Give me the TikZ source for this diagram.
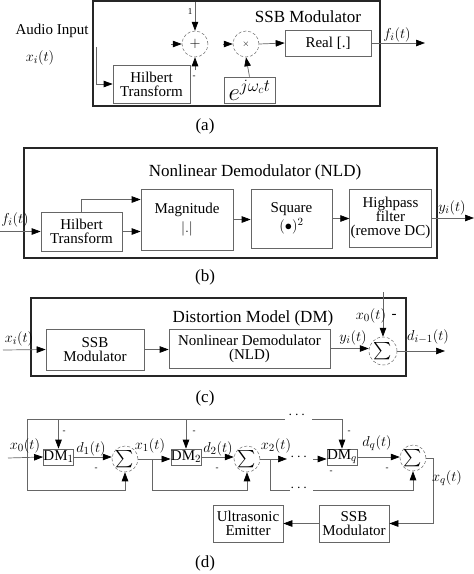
\documentclass[tikz,border=0pt]{standalone}
\usepackage{amsmath}
\usepackage{fontspec}
\setmainfont{Liberation Serif}
\usetikzlibrary{arrows.meta}

\tikzset{
  blk/.style={draw=black!60, line width=0.7pt, inner sep=1pt, align=center},
  sumnode/.style={circle, draw=black!60, densely dashed, line width=0.5pt, minimum size=26pt, inner sep=0pt},
  frame/.style={draw=black!85, line width=1.6pt},
  con/.style={draw=black!60, line width=0.7pt},
  arr/.style={con, -{Triangle[length=9pt,width=6.5pt,color=black]}},
  lbl/.style={inner sep=0.75pt},
  ttl/.style={font=\fontsize{17}{19}\selectfont},
}
\newcommand{\sumsign}{{\fontsize{19}{19}\selectfont$\sum$}}

\begin{document}
\begin{tikzpicture}[x=1pt,y=1pt,yscale=-1,xscale=1,font=\fontsize{15}{17}\selectfont]
\useasboundingbox (0,0) rectangle (474,574);

%%%%%%%%%%%%%%%% (a) SSB modulator
%Shape: Rectangle
\draw [frame] (93,1) rectangle (380,106);
% Text Node
\node [ttl] (a_title) at (308,17) {SSB Modulator};
\node (a_audio) at (52,31) {Audio Input};
\node (a_xi) at (40,58) {$x_i(t)$};
%Shape: Blocks
\node [blk, minimum width=77pt, minimum height=38pt] (hil_a) at (151.5,84) {Hilbert\\[-3pt]Transform};
\node [sumnode] (add) at (195,44) {$+$};
\node [sumnode] (mul) at (246,44) {\small$\times$};
\node [blk, minimum width=51pt, minimum height=26pt, inner sep=0pt] (expo) at (249.5,90) {\fontsize{24}{24}\selectfont$e^{j\omega_c t}$};
\node [blk, minimum width=86pt, minimum height=26pt] (real) at (328,43) {Real [.]};
%Free ends
\coordinate (a_in) at (96,47);
\coordinate (a_one) at (195,2);
\coordinate (a_left) at (171,44);
\coordinate (a_low) at (195,70);
\coordinate (m_left) at (223,44);
\coordinate (a_out) at (425,43);
%Straight Lines
\draw [arr] (a_in) |- (hil_a.west);
\draw [arr] (a_one) -- (add.north);
\draw [arr] (a_left) -- (add.west);
\draw [arr] (a_low) -- (add.south);
\draw [arr] (m_left) -- (mul.west);
\draw [arr] (expo.north) -- (mul.south);
\draw [arr] (mul.east) -- (real.west);
\draw [arr] (real.east) -- (a_out);
% Text Node
\node [lbl] (a_1) at (190,12) {\small 1};
\node [lbl] (a_minus) at (194,77) {\small -};
\node [lbl] (a_fi) at (397,35) {$f_i(t)$};
\node [ttl] (a_cap) at (205,126) {(a)};

%%%%%%%%%%%%%%%% (b) NLD
%Shape: Rectangle
\draw [frame] (24,148) rectangle (437,258);
% Text Node
\node [ttl] (b_title) at (255,172) {Nonlinear Demodulator (NLD)};
%Shape: Blocks
\node [blk, minimum width=81pt, minimum height=39pt] (hil_b) at (81.5,231.5) {Hilbert\\[-3pt]Transform};
\node [blk, minimum width=92pt, minimum height=61pt] (mag) at (187,219.5) {Magnitude\\[2pt]$|.|$};
\node [blk, minimum width=81pt, minimum height=59pt] (sqr) at (291.5,218.5) {Square\\[1pt]$(\bullet)^2$};
\node [blk, minimum width=81pt, minimum height=58pt] (hp) at (390.5,218) {Highpass\\[-3pt]filter\\[-3pt](remove DC)};
%Free ends
\coordinate (b_in) at (0,231.5);
\coordinate (b_out) at (474,218);
%Straight Lines
\draw [arr] (b_in) -- (hil_b.west);
\draw [arr] (hil_b.east) -- (hil_b.east -| mag.west);
\draw [arr] (hil_b.north) |- ([yshift=-20pt]mag.west);
\draw [arr] (mag.east) -- (mag.east -| sqr.west);
\draw [arr] (sqr.east) -- (sqr.east -| hp.west);
\draw [arr] (hp.east) -- (b_out);
% Text Node
\node [lbl] (b_fi) at (15,220) {$f_i(t)$};
\node [lbl] (b_yi) at (452,208) {$y_i(t)$};
\node [ttl] (b_cap) at (205,277) {(b)};

%%%%%%%%%%%%%%%% (c) distortion model
%Shape: Rectangle
\draw [frame] (31,298) rectangle (406,376);
% Text Node
\node [ttl] (c_title) at (253,318) {Distortion Model (DM)};
%Shape: Blocks
\node [blk, minimum width=98pt, minimum height=41pt] (ssb_c) at (95,349.5) {SSB\\[-3pt]Modulator};
\node [blk, minimum width=161pt, minimum height=39pt] (nld) at (249.5,348.5) {Nonlinear Demodulator\\[-3pt](NLD)};
\node [sumnode, minimum size=28pt] (sum_c) at (383,351) {\sumsign};
%Free ends
\coordinate (c_in) at (3,350);
\coordinate (c_top) at (383,292);
\coordinate (c_out) at (445,351);
%Straight Lines
\draw [arr] (c_in) -- (ssb_c.west);
\draw [arr] (ssb_c.east) -- (ssb_c.east -| nld.west);
\draw [arr] (nld.east) -- (nld.east -| sum_c.west);
\draw [arr] (c_top) -- (sum_c.north);
\draw [arr] (sum_c.east) -- (c_out);
% Text Node
\node [lbl] (c_xi) at (19,339) {$x_i(t)$};
\node [lbl] (c_yi) at (353,338) {$y_i(t)$};
\node [lbl] (c_x0) at (371,316) {$x_0(t)$};
\node [lbl] (c_minus) at (394,316) {-};
\node [lbl] (c_di) at (428,337) {$d_{i-1}(t)$};
\node [ttl] (c_cap) at (205,398) {(c)};

%%%%%%%%%%%%%%%% (d) cascade
%Shape: Blocks
\node [blk, minimum width=29pt, minimum height=16pt, inner sep=0pt] (dm1) at (58.5,457) {DM$_1$};
\node [blk, minimum width=30pt, minimum height=16pt, inner sep=0pt] (dm2) at (186,457) {DM$_2$};
\node [blk, minimum width=30pt, minimum height=16pt, inner sep=0pt] (dmq) at (342,457) {DM$_q$};
\node [sumnode] (s1) at (125,459) {\sumsign};
\node [sumnode] (s2) at (247,459) {\sumsign};
\node [sumnode] (sq) at (413,458) {\sumsign};
\node [blk, minimum width=70pt, minimum height=37pt] (emit) at (248,523.5) {Ultrasonic\\[-3pt]Emitter};
\node [blk, minimum width=70pt, minimum height=37pt] (ssb_d) at (354,523.5) {SSB\\[-3pt]Modulator};
%Free ends
\coordinate (d_in) at (8,458);
\coordinate (fb_low) at (27,490);
\coordinate (fb_top) at (27,419);
\coordinate (fb_gap1) at (285,419);
\coordinate (fb_gap2) at (312,419);
\coordinate (br1) at (152,459);
\coordinate (br2) at (270,459);
\coordinate (br2_end) at (290,490);
\coordinate (br2_re) at (313,490);
\coordinate (x2_end) at (287,459);
\coordinate (x2_re) at (313,459);
\coordinate (xq_turn) at (433,458);
%Straight Lines
\draw [con] (fb_low) -- (fb_top) -- (fb_gap1);
\draw [arr] (fb_gap2) -| (dmq.north);
\draw [arr] (fb_top -| dm1.north) -- (dm1.north);
\draw [arr] (fb_top -| dm2.north) -- (dm2.north);
\draw [arr] (d_in) -- (dm1.west);
\draw [arr] (fb_low) -| (s1.south);
\draw [arr] (dm1.east) -- (dm1.east -| s1.west);
\draw [arr] (s1.east) -- (s1.east -| dm2.west);
\draw [arr] (br1) |- (fb_low -| s2.south) -- (s2.south);
\draw [arr] (dm2.east) -- (dm2.east -| s2.west);
\draw [arr] (s2.east) -- (x2_end);
\draw [arr] (x2_re) -- (x2_re -| dmq.west);
\draw [con] (br2) |- (br2_end);
\draw [arr] (br2_re) -| (sq.south);
\draw [arr] (dmq.east) -- (dmq.east -| sq.west);
\draw [arr] (sq.east) -- (xq_turn) |- (ssb_d.east);
\draw [arr] (ssb_d.west) -- (emit.east);
% Text Node
\node [lbl] (d_gap_top) at (298,415) {$\cdots$};
\node [lbl] (d_gap_mid) at (300,457) {$\cdots$};
\node [lbl] (d_gap_low) at (300,488) {$\cdots$};
\node [lbl] (d_x0) at (25,446) {$x_0(t)$};
\node [lbl] (d_d1) at (91,449) {$d_1(t)$};
\node [lbl] (d_x1) at (150,446) {$x_1(t)$};
\node [lbl] (d_d2) at (218,449) {$d_2(t)$};
\node [lbl] (d_x2) at (276,446) {$x_2(t)$};
\node [lbl] (d_dq) at (377,443) {$d_q(t)$};
\node [lbl] (d_xq) at (447,478) {$x_q(t)$};
\node [lbl] (m1) at (64,432) {\small -};
\node [lbl] (m2) at (194,432) {\small -};
\node [lbl] (m3) at (349,432) {\small -};
\node [lbl] (m4) at (96,469) {\small -};
\node [lbl] (m5) at (217,469) {\small -};
\node [lbl] (m6) at (331,472) {\small -};
\node [lbl] (m7) at (387,469) {\small -};
\node [ttl] (d_cap) at (205,563) {(d)};

\end{tikzpicture}
\end{document}
